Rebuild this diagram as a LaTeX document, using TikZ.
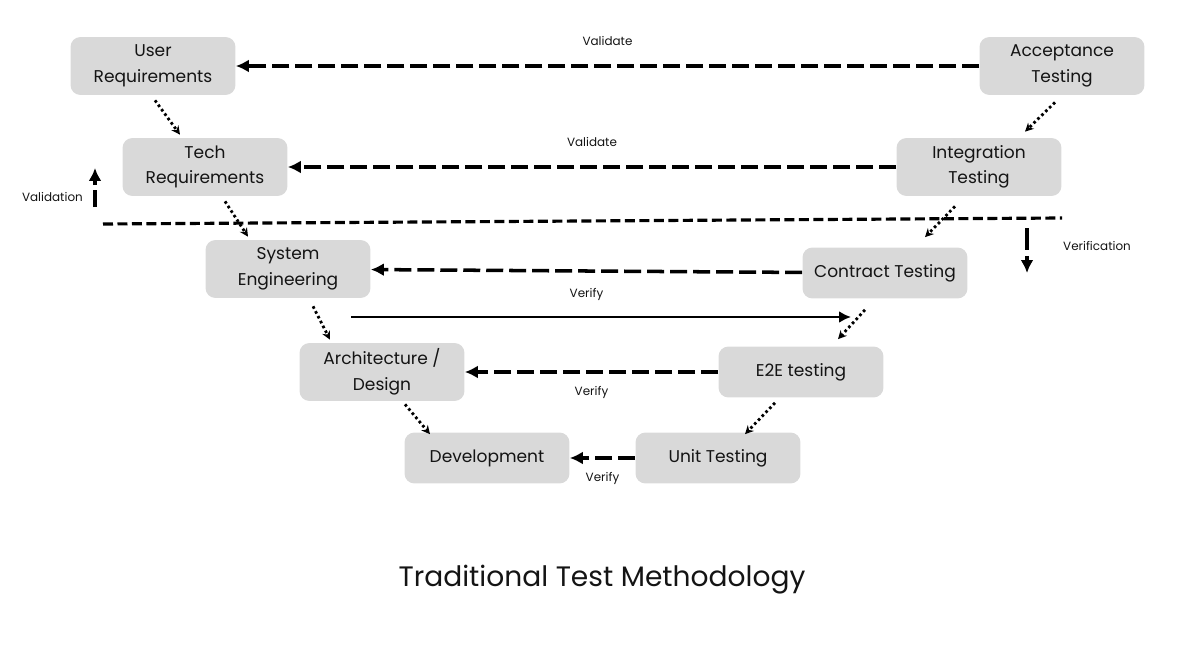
\documentclass[tikz,border=0pt]{standalone}
\usepackage{fontspec}
\setmainfont{Poppins}
\usepackage{xcolor}
\usepackage{tikz}
\usetikzlibrary{arrows.meta,calc,positioning}
\definecolor{boxgray}{HTML}{D9D9D9}
\definecolor{ink}{HTML}{141414}
\tikzset{stage/.style={rectangle,rounded corners=0.2cm,fill=boxgray,minimum width=3.3cm,minimum height=1.16cm,inner sep=0pt,align=center,text=ink,font=\fontsize{9.7}{14.5}\selectfont}}
\tikzset{stageone/.style={stage,minimum height=1.02cm}}
\tikzset{back/.style={-{Latex[length=0.26cm,width=0.26cm]},line width=2pt,dash pattern=on 0.34cm off 0.12cm}}
\tikzset{fwd/.style={-{Latex[length=0.24cm,width=0.24cm]},line width=1.7pt}}
\tikzset{flow/.style={-{Stealth[length=0.17cm,width=0.17cm]},line width=1.6pt,dash pattern=on 1.5pt off 1.6pt}}
\tikzset{lbl/.style={text=ink,font=\fontsize{6.8}{8}\selectfont}}

\begin{document}
\begin{tikzpicture}[x=0.02cm,y=-0.02cm,>=stealth]
        \useasboundingbox (0,0) rectangle (1200,652);
        \node[stage] (ur)at (153,66) {User\\Requirements};
        \node[stage] (tr)at (205,167) {Tech\\Requirements};
        \node[stage] (se)at (288,269) {System\\Engineering};
        \node[stage] (ad)at (382,372) {Architecture /\\Design};
        \node[stageone] (dv)at (487,458) {Development};
        \node[stage] (at)at (1062,66) {Acceptance\\Testing};
        \node[stage] (it)at (979,167) {Integration\\Testing};
        \node[stageone] (ct)at (885,273) {Contract Testing};
        \node[stageone] (e2e)at (801,372) {E2E testing};
        \node[stageone] (ut)at (718,458) {Unit Testing};

        \draw [back] (at) to []node[lbl,midway,above=0.26cm](va){Validate} (ur);
        \draw [back] (it) to []node[lbl,midway,above=0.26cm](vb){Validate} (tr);
        \draw [back] (ct) to []node[lbl,midway,below=0.2cm](vc){Verify} (se);
        \draw [back] (e2e) to []node[lbl,midway,below=0.14cm](vd){Verify} (ad);
        \draw [back] (ut) to []node[lbl,midway,below=0.14cm](ve){Verify} (dv);

        \coordinate (fs) at (351,317);
        \coordinate (fe) at (851,317);
        \draw [fwd] (fs) -- (fe);

        \draw [flow] ($(ur.south)+(2,5)$) -- ($(tr.north)+(-25,-3)$);
        \draw [flow] ($(tr.south)+(20,5)$) -- ($(se.north)+(-40,-3)$);
        \draw [flow] ($(se.south)+(25,8)$) -- ($(ad.north)+(-52,-3)$);
        \draw [flow] ($(ad.south)+(23,3)$) -- ($(dv.north)+(-57,2)$);
        \draw [flow] ($(at.south)+(-7,7)$) -- ($(it.north)+(46,-6)$);
        \draw [flow] ($(it.south)+(-24,10)$) -- ($(ct.north)+(40,-10)$);
        \draw [flow] ($(ct.south)+(-20,11)$) -- ($(e2e.north)+(37,-7)$);
        \draw [flow] ($(e2e.south)+(-26,5)$) -- ($(ut.north)+(27,2)$);

        % split between validation and verification
        \coordinate (sl) at (103,224);
        \coordinate (sr) at (1062,218);
        \draw [line width=1.8pt,dash pattern=on 0.2cm off 0.09cm] (sl) -- (sr);

        \coordinate (ga) at (95,207);
        \coordinate (gb) at (95,168);
        \draw [back,dash pattern=on 0.34cm off 0.1cm] (ga) -- (gb);
        \node[lbl,left=0.12cm of ga,yshift=0.2cm] (gl) {Validation};
        \coordinate (ka) at (1027,228);
        \coordinate (kb) at (1027,273);
        \draw [back,dash pattern=on 0.44cm off 0.12cm] (ka) -- (kb);
        \node[lbl] (kl)at (1097,246) {Verification};

        \node[text=ink,font=\fontsize{16}{19}\selectfont] (title)at (602,580) {Traditional Test Methodology};
    \end{tikzpicture}
\end{document}
